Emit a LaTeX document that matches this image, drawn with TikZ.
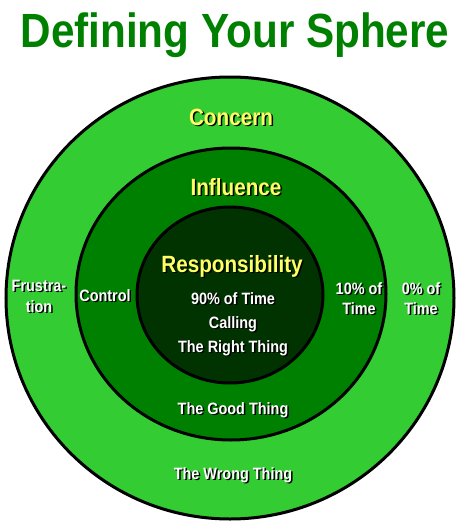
\documentclass[tikz,border=0pt]{standalone}
\usepackage{fontspec}
\setmainfont{Liberation Sans}[FakeStretch=0.88]
\usetikzlibrary{positioning}
\definecolor{titlegreen}{RGB}{0,128,0}
\definecolor{concerngreen}{RGB}{51,204,51}
\definecolor{influencegreen}{RGB}{0,128,0}
\definecolor{respgreen}{RGB}{0,51,0}
\definecolor{labelyellow}{RGB}{255,255,102}
\tikzset{sphere/.style={draw=black, line width=3pt},
  big label/.style={font=\bfseries\fontsize{23.5}{26}\selectfont, text=labelyellow, anchor=base, inner sep=0pt},
  small label/.style={font=\bfseries\fontsize{16.4}{20}\selectfont, text=white, align=center, anchor=base, inner sep=0pt},}
% label with a black drop shadow
\newcommand{\shadowlabel}[4]{%
  \node[#3, text=black, shift={(1.5,1.5)}] at (#2) {#4};
  \node[#3] (#1) at (#2) {#4};}

\begin{document}
\begin{tikzpicture}[x=1pt, y=-1pt]
        \useasboundingbox (0,0) rectangle (462,530);
        % Title
        \node[font=\bfseries\fontsize{48}{50}\selectfont, text=titlegreen, anchor=base, inner sep=0pt] (title) at (235,47) {Defining Your Sphere};
        % Spheres
        \draw[sphere, fill=concerngreen] (230,298) ellipse [x radius=224pt, y radius=221pt];
        \draw[sphere, fill=influencegreen] (231,294) ellipse [x radius=155pt, y radius=146pt];
        \draw[sphere, fill=respgreen] (230,295) ellipse [x radius=93pt, y radius=88pt];
        % Labels (multi-line ones placed at the baseline of their last line)
        \shadowlabel{concern}{231,125}{big label}{Concern}
        \shadowlabel{influence}{236,195}{big label}{Influence}
        \shadowlabel{resp}{232,272}{big label}{Responsibility}
        \shadowlabel{calling}{233,352}{small label, font=\bfseries\fontsize{16.4}{24}\selectfont}{90\% of Time\\Calling\\The Right Thing}
        \shadowlabel{frustration}{39,312}{small label, font=\bfseries\fontsize{16.4}{21}\selectfont}{Frustra-\\tion}
        \shadowlabel{control}{105,301}{small label}{Control}
        \shadowlabel{tenpct}{359,314}{small label}{10\% of\\Time}
        \shadowlabel{zeropct}{421,314}{small label}{0\% of\\Time}
        \shadowlabel{good}{233,414}{small label}{The Good Thing}
        \shadowlabel{wrong}{233,479}{small label}{The Wrong Thing}
\end{tikzpicture}
\end{document}
